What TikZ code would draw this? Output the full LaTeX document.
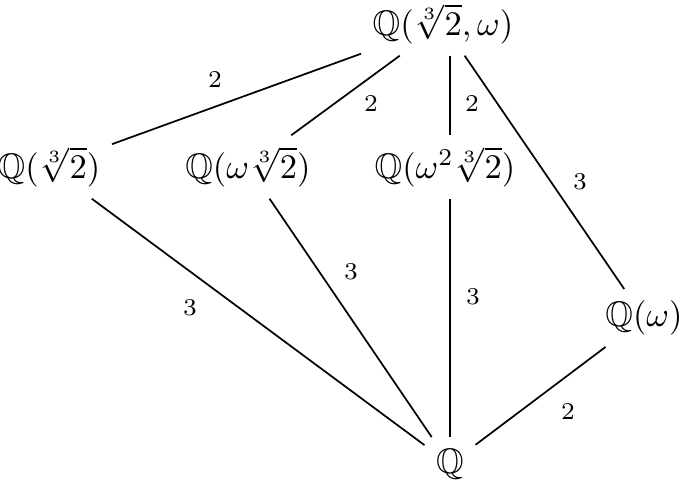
\documentclass[tikz,border=0pt]{standalone}
\usepackage{amssymb}
\begin{document}
\begin{tikzpicture}[x=0.29pt,y=-0.29pt,
  field/.style={inner sep=3.2pt, font=\fontsize{10.3}{12}\selectfont},
  deg/.style={font=\fontsize{7}{8}\selectfont, inner sep=0pt},
  link/.style={line width=0.5pt}]
\useasboundingbox (0,0) rectangle (685,483);
\node[field] (top) at (443,24) {$\mathbb{Q}(\sqrt[3]{2},\omega)$};
\node[field] (a) at (49,167) {$\mathbb{Q}(\sqrt[3]{2})$};
\node[field] (b) at (248,167) {$\mathbb{Q}(\omega\sqrt[3]{2})$};
\node[field] (c) at (445,167) {$\mathbb{Q}(\omega^2\sqrt[3]{2})$};
\node[field] (d) at (644,318) {$\mathbb{Q}(\omega)$};
\node[field] (q) at (450,464) {$\mathbb{Q}$};
\draw[link] (top) -- (a);
\draw[link] (top) -- (b);
\draw[link] (top.south -| q) -- (c.north -| q);
\draw[link] (top) -- (d);
\draw[link] (a) -- (q);
\draw[link] (b) -- (q);
\draw[link] (c.south -| q) -- (q);
\draw[link] (d) -- (q);
\node[deg] (l1) at (215,79) {2};
\node[deg] (l2) at (371,103) {2};
\node[deg] (l3) at (472,103) {2};
\node[deg] (l4) at (580,182) {3};
\node[deg] (l5) at (190,308) {3};
\node[deg] (l6) at (351,272) {3};
\node[deg] (l7) at (473,297) {3};
\node[deg] (l8) at (568,411) {2};
\end{tikzpicture}
\end{document}
